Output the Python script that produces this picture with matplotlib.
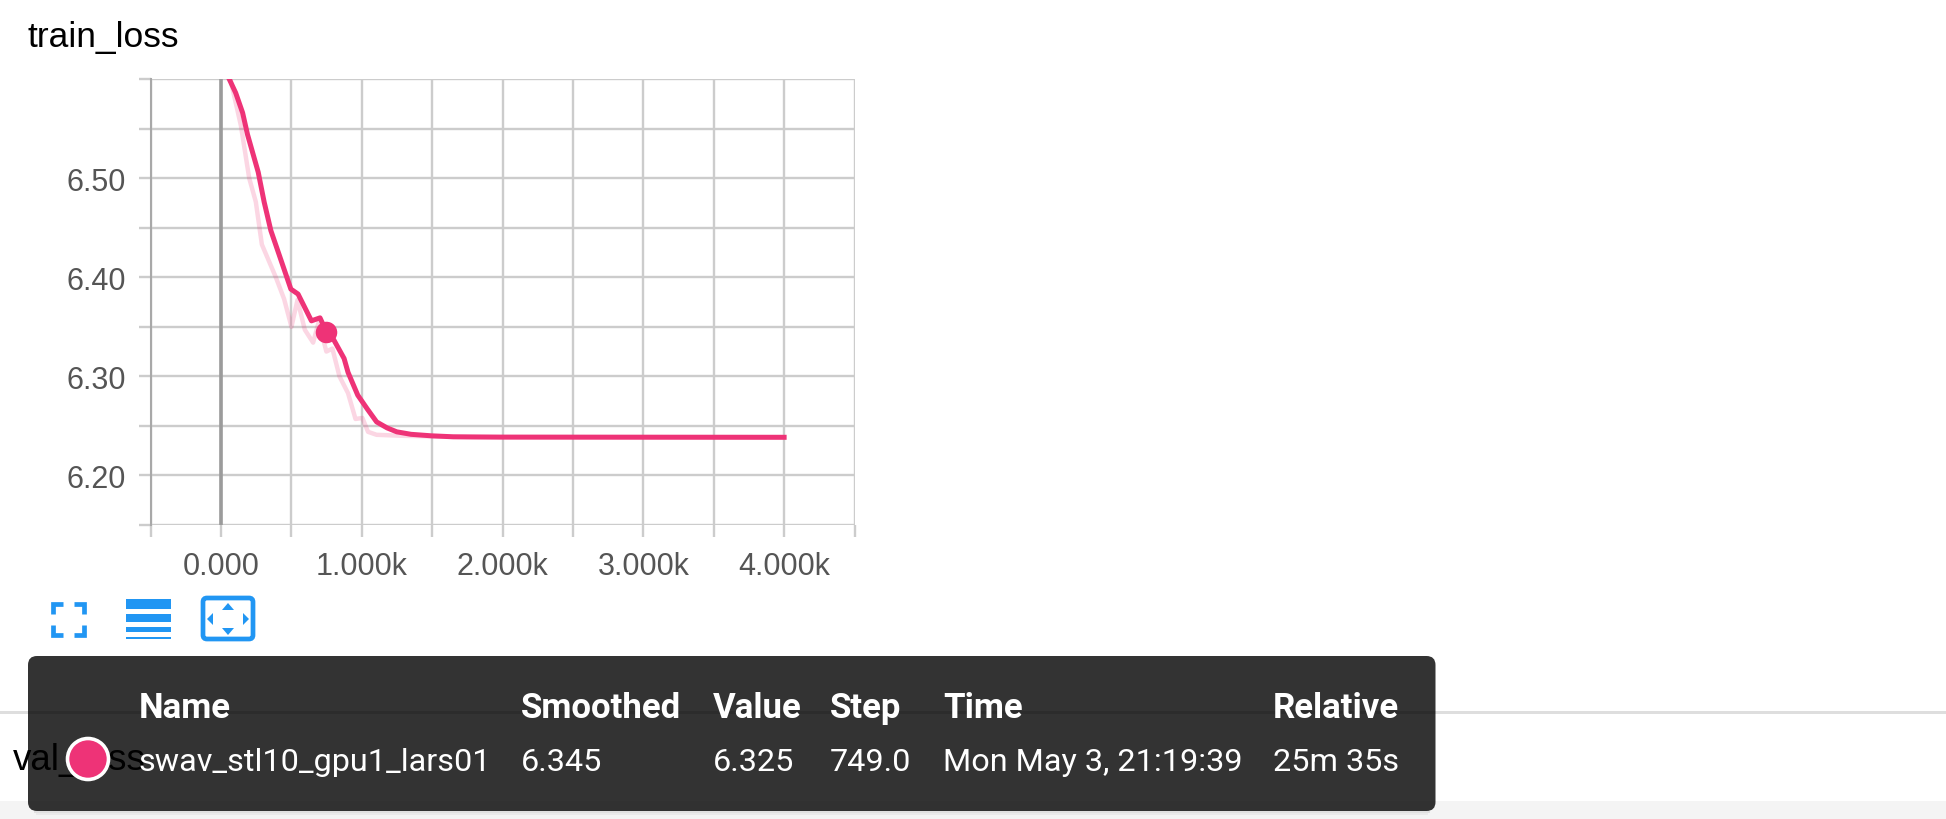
"""TensorBoard train_loss card with hover tooltip."""
import matplotlib
matplotlib.use("Agg")
import matplotlib.pyplot as plt
from matplotlib.patches import Circle, FancyBboxPatch, Polygon, Rectangle

W, H = 1946, 820
PINK = "#ee3377"
BLUE = "#2196f3"
GRID = "#cccccc"

# values
smoothed_steps = [59, 105, 154, 189, 265, 307, 355, 425, 497, 548, 643, 704, 749, 801, 875, 903, 972, 1040,
                  1106, 1180, 1249, 1350, 1493, 1650, 1980, 4000]
smoothed_loss = [6.600, 6.586, 6.566, 6.544, 6.506, 6.476, 6.447, 6.418, 6.388, 6.383, 6.356, 6.359, 6.345,
                 6.337, 6.318, 6.304, 6.281, 6.267, 6.254, 6.248, 6.244, 6.2415, 6.240, 6.239, 6.2387, 6.2385]
raw_steps = [59, 142, 201, 248, 291, 390, 449, 501, 544, 596, 655, 695, 749, 792, 842, 903, 956, 1005,
             1045, 1106, 1289, 1800, 4000]
raw_loss = [6.605, 6.553, 6.500, 6.476, 6.433, 6.400, 6.378, 6.350, 6.377, 6.347, 6.334, 6.355, 6.325, 6.328,
            6.300, 6.283, 6.257, 6.258, 6.244, 6.241, 6.240, 6.2385, 6.2385]
hover_step = 749
hover_smoothed = 6.345

x_ticks = [-500, 0, 500, 1000, 1500, 2000, 2500, 3000, 3500, 4000, 4500]
x_labels = ["", "0.000", "", "1.000k", "", "2.000k", "", "3.000k", "", "4.000k", ""]
y_ticks = [6.15, 6.20, 6.25, 6.30, 6.35, 6.40, 6.45, 6.50, 6.55, 6.60]
y_labels = ["", "6.20", "", "6.30", "", "6.40", "", "6.50", "", ""]

headers = ["Name", "Smoothed", "Value", "Step", "Time", "Relative"]
row = ["swav_stl10_gpu1_lars01", "6.345", "6.325", "749.0", "Mon May 3, 21:19:39", "25m 35s"]
col_x = [139, 520.5, 713, 830, 943, 1273]

fig = plt.figure(figsize=(W / 100, H / 100), dpi=100)
fig.patch.set_facecolor("white")

# chart
ax = fig.add_axes([150.5 / W, (H - 526) / H, (854.5 - 150.5) / W, (526 - 80) / H])
ax.plot(raw_steps, raw_loss, color=PINK, alpha=0.2, lw=3.2, zorder=3)
ax.plot(smoothed_steps, smoothed_loss, color=PINK, lw=3.6, zorder=4)
ax.plot([hover_step], [hover_smoothed], "o", color=PINK, ms=15.5, mew=0, zorder=5)
ax.set_xlim(-500, 4500)
ax.set_ylim(6.15, 6.60)
ax.set_xticks(x_ticks, x_labels)
ax.set_yticks(y_ticks, y_labels)
ax.grid(True, color=GRID, lw=1.7, zorder=1)
ax.axvline(0, color="#9b9b9b", lw=2.6, zorder=2)
ax.axvline(-500, color="#a8a8a8", lw=1.5, zorder=2, clip_on=False)
for side in ax.spines:
    ax.spines[side].set_visible(False)
ax.tick_params(axis="both", length=8.6, width=1.7, color=GRID, labelcolor="#555555", labelsize=22)
ax.tick_params(axis="x", pad=10)
ax.tick_params(axis="y", pad=9)
for lab in ax.get_xticklabels() + ax.get_yticklabels():
    lab.set_family("Liberation Sans")
ax.set_axisbelow(True)

# page chrome and tooltip in pixel coordinates
ui = fig.add_axes([0, 0, 1, 1], zorder=10)
ui.set_xlim(0, W)
ui.set_ylim(H, 0)
ui.axis("off")

ui.text(28, 47, "train_loss", fontsize=25.5, family="Liberation Sans", color="black", va="baseline")

# card separator, lower strip
ui.add_patch(Rectangle((0, 712), W, 3, color="#dedede", lw=0, zorder=0.5))
ui.add_patch(Rectangle((0, 802), W, 18, color="#f4f4f4", lw=0, zorder=0.5))
ui.text(13, 770, "val_loss", fontsize=26.5, family="Liberation Sans", color="black", va="baseline", zorder=0.6)

# icons
x0, x1, y0, y1 = 52.5, 84, 604.5, 635.5
arm = 10
for cx, sx in [(x0, 1), (x1, -1)]:
    for cy, sy in [(y0, 1), (y1, -1)]:
        ui.plot([cx + sx * arm, cx, cx], [cy, cy, cy + sy * arm], color=BLUE, lw=3.4,
                solid_joinstyle="miter", solid_capstyle="butt")
for y0, y1 in [(600, 610), (615, 622.5), (627.5, 632.5), (637.5, 640)]:
    ui.add_patch(Rectangle((126, y0), 45, y1 - y0, color=BLUE, lw=0))
ui.add_patch(FancyBboxPatch((203, 599), 50, 41, boxstyle="round,pad=0,rounding_size=4",
                            fc="white", ec=BLUE, lw=3.4))
for pts in [[(228, 604), (222, 611), (234, 611)], [(228, 636), (222, 629), (234, 629)],
            [(207, 620), (213, 614), (213, 626)], [(249, 620), (243, 614), (243, 626)]]:
    ui.add_patch(Polygon(pts, closed=True, color=BLUE, lw=0))

# tooltip
ui.add_patch(Rectangle((34, 812), 1396, 2, color="black", alpha=0.08, lw=0, zorder=0.7))
ui.add_patch(Rectangle((36, 814), 1392, 2, color="black", alpha=0.04, lw=0, zorder=0.7))
ui.add_patch(FancyBboxPatch((28, 657), 1407.5, 155, boxstyle="round,pad=0,rounding_size=9",
                            fc="black", ec="none", alpha=0.8, zorder=1))
ui.add_patch(Circle((88, 760), 20.5, fc=PINK, ec="white", lw=2.6, zorder=2))
for x, head, val in zip(col_x, headers, row):
    ui.text(x, 718, head, fontsize=25, family="Roboto", weight="bold", color="white", va="baseline", zorder=3)
    ui.text(x, 771.5, val, fontsize=23.3, family="Roboto", color="white", va="baseline", zorder=3)

fig.savefig("out.png", dpi=100)
plt.close(fig)
